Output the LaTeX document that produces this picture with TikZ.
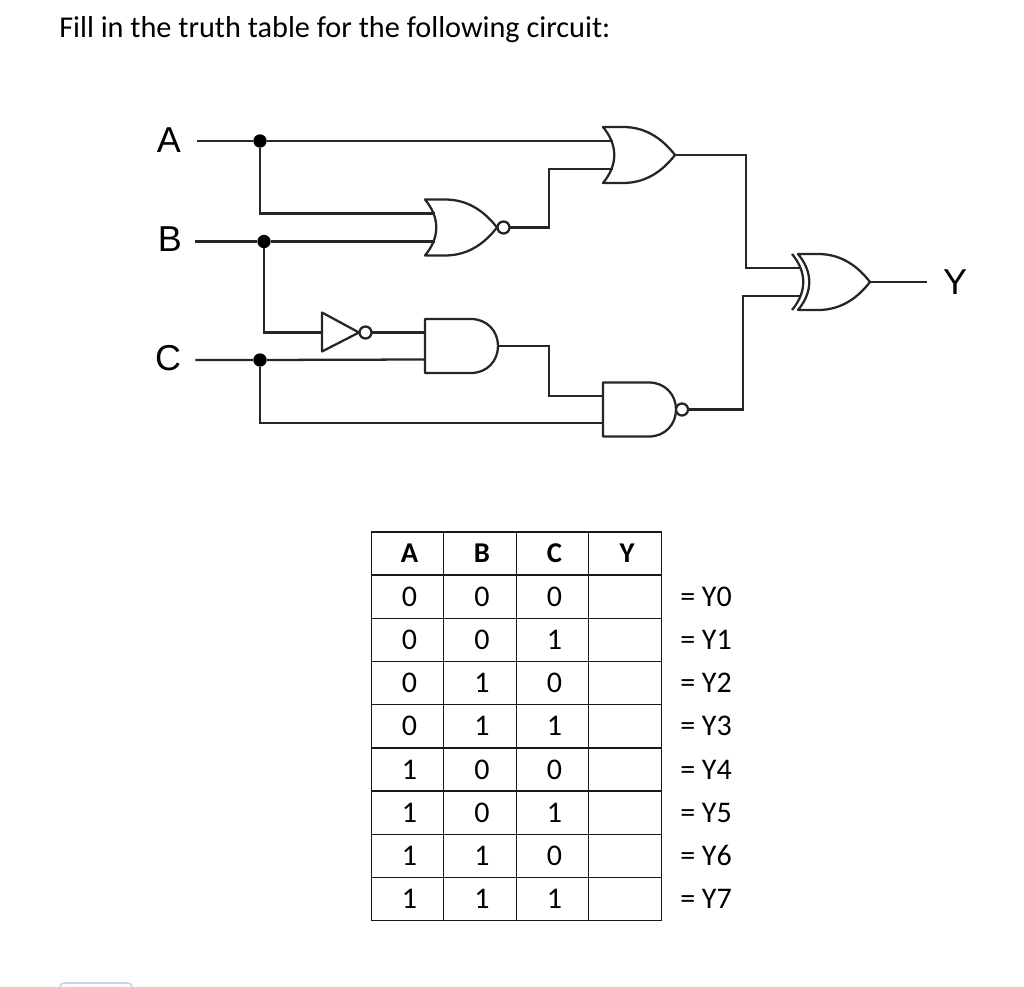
\documentclass[tikz,border=0pt]{standalone}
\usepackage{fontspec}
\setmainfont{Carlito}
\newfontfamily\wirefont{Liberation Sans}
\usetikzlibrary{positioning, calc}

\definecolor{wirecol}{gray}{0.15}
\definecolor{btncol}{RGB}{205,210,218}

\newcommand{\orbody}{(0,-28) -- (20,-28) .. controls (45,-28) and (61,-14) .. (72,0) .. controls (61,14) and (45,28) .. (20,28) -- (0,28) .. controls (15,10) and (15,-10) .. (0,-28) -- cycle}
\newcommand{\andbody}{(0,-27) -- (46,-27) .. controls (62,-27) and (73,-15) .. (73,0) .. controls (73,15) and (62,27) .. (46,27) -- (0,27) -- cycle}

\tikzset{
	wire/.style={line width=1.7pt, draw=wirecol, line join=miter},
	gateline/.style={line width=1.7pt, draw=wirecol, fill=white, line join=round},
	joint/.style={circle, fill=black, inner sep=0pt, minimum size=10pt},
	inlabel/.style={font=\wirefont\fontsize{27}{27}\selectfont, minimum width=42pt, inner sep=0pt},
	cell/.style={draw=black!90, line width=1pt, minimum width=54.3pt, minimum height=32.4pt, inner sep=0pt, font=\fontsize{22.5}{22.5}\selectfont, execute at begin node=\hspace{3pt}},
	headcell/.style={cell, font=\fontsize{21.5}{21.5}\selectfont\bfseries},
	rowlabel/.style={anchor=west, inner sep=0pt, font=\fontsize{22.5}{22.5}\selectfont},
	orgate/.pic={
		\draw[gateline] \orbody;
		\coordinate (-in1) at (10,-14);
		\coordinate (-in2) at (10,14);
		\coordinate (-out) at (72,0);
	},
	norgate/.pic={
		\draw[gateline] \orbody;
		\draw[gateline] (78.5,0) circle (4.5pt);
		\coordinate (-in1) at (10,-14);
		\coordinate (-in2) at (10,14);
		\coordinate (-out) at (85,0);
	},
	xorgate/.pic={
		\draw[gateline] \orbody;
		\draw[gateline, fill=none] (-6,-28) .. controls (9,-10) and (9,10) .. (-6,28);
		\coordinate (-in1) at (3,-14);
		\coordinate (-in2) at (3,14);
		\coordinate (-out) at (73,0);
	},
	andgate/.pic={
		\draw[gateline] \andbody;
		\coordinate (-in1) at (0,-13.5);
		\coordinate (-in2) at (0,13.5);
		\coordinate (-out) at (73,0);
	},
	nandgate/.pic={
		\draw[gateline] \andbody;
		\draw[gateline] (79,0) circle (4.5pt);
		\coordinate (-in1) at (0,-13.5);
		\coordinate (-in2) at (0,13.5);
		\coordinate (-out) at (85,0);
	},
	notgate/.pic={
		\draw[gateline] (0,-20) -- (37,0) -- (0,19) -- cycle;
		\draw[gateline] (43.5,0) circle (4.5pt);
		\coordinate (-in) at (0,0);
		\coordinate (-out) at (50,0);
	}
}

\begin{document}
\begin{tikzpicture}[x=0.75pt, y=-0.75pt]
	\useasboundingbox (0,0) rectangle (1024,987);

	\node[anchor=west, inner sep=0pt, font=\fontsize{22.7}{22.7}\selectfont] (title) at (59,30) {Fill in the truth table for the following circuit:};

	% inputs and output
	\node[inlabel] (A) at (169,140) {A};
	\node[inlabel, minimum width=37.5pt] (B) at (170,239.5) {B};
	\node[inlabel, minimum width=40.5pt] (C) at (168,358.5) {C};
	\node[inlabel] (Y) at (955,282) {Y};
	\node[joint] (dA) at (260,141) {};
	\node[joint] (dB) at (264,241.5) {};
	\node[joint] (dC) at (260,360) {};

	% gates
	\pic (o1) at (603,155) {orgate};
	\pic (n1) at (425,227.5) {norgate};
	\pic (i1) at (322,332.5) {notgate};
	\pic (a1) at (425,346) {andgate};
	\pic (q1) at (603,409.5) {nandgate};
	\pic (x1) at (798,282) {xorgate};

	% bends
	\coordinate (m1) at (549,169);
	\coordinate (m2) at (549,396);
	\coordinate (m3) at (746,268);
	\coordinate (m4) at (743,296);

	% wires
	\draw[wire] (A.east |- dA) -- (dA) -- (o1-in1);
	\draw[wire] (dA) |- (n1-in1);
	\draw[wire] (B.east |- dB) -- (dB) -- (n1-in2);
	\draw[wire] (dB) |- (i1-in);
	\draw[wire] (i1-out) -- (a1-in1);
	\draw[wire] (C.east |- dC) -- (dC) -- (a1-in2);
	\draw[wire] (dC) |- (q1-in2);
	\draw[wire] (n1-out) -| (m1) -- (o1-in2);
	\draw[wire] (a1-out) -| (m2) -- (q1-in1);
	\draw[wire] (o1-out) -| (m3) -- (x1-in1);
	\draw[wire] (q1-out) -| (m4) -- (x1-in2);
	\draw[wire] (x1-out) -- (Y.west |- x1-out);

	% truth table
	\foreach \name [count=\c from 0] in {A,B,C,Y}
		\node[headcell] (h\name) at (407.5+72.5*\c,553.5) {\name};
	\foreach \a/\b/\d [count=\r from 0] in {0/0/0,0/0/1,0/1/0,0/1/1,1/0/0,1/0/1,1/1/0,1/1/1} {
		\node[cell] (ra\r) at (407.5,596.7+43.2*\r) {\a};
		\node[cell] (rb\r) at (480,596.7+43.2*\r) {\b};
		\node[cell] (rc\r) at (552.5,596.7+43.2*\r) {\d};
		\node[cell] (ry\r) at (625,596.7+43.2*\r) {};
		\node[rowlabel] (eq\r) at (680,596.7+43.2*\r) {= Y\r};
	}

	% button edge at the bottom
	\draw[btncol, line width=1.2pt] (60,987) .. controls (60,984) and (62,983) .. (65,983) -- (127,983) .. controls (130,983) and (132,984) .. (132,987);
\end{tikzpicture}
\end{document}
